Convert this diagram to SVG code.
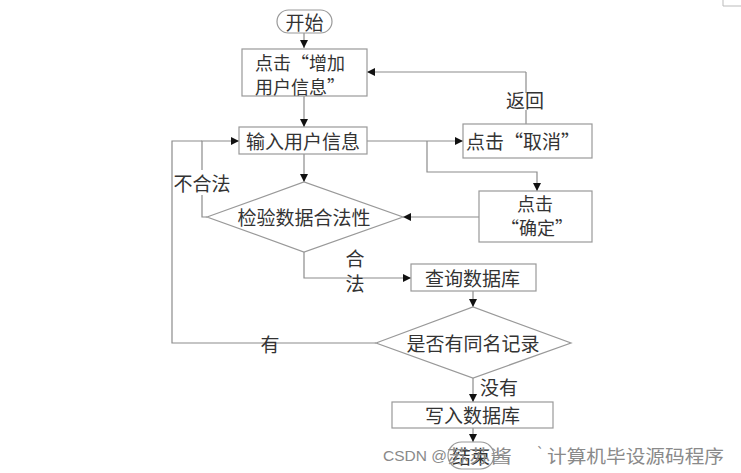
<svg xmlns="http://www.w3.org/2000/svg" width="741" height="473" viewBox="0 0 741 473">
<defs>
<marker id="ah" viewBox="0 0 10 10" refX="10" refY="5" markerWidth="8" markerHeight="8" markerUnits="userSpaceOnUse" orient="auto">
<path d="M0,0 L10,5 L0,10 z" fill="#111"/>
</marker>
<style>
.n{fill:#fff;stroke:#999;stroke-width:1.2}
.c{fill:none;stroke:#8c8c8c;stroke-width:1.2}
.a{marker-end:url(#ah)}
text{font-family:"Noto Sans CJK SC","Liberation Serif",sans-serif;font-size:19px;fill:#333;dominant-baseline:central}
.m{text-anchor:middle}
.s{font-size:18px}
.wm{fill:#8a8a8a;font-size:18px}
</style>
</defs>
<rect width="741" height="473" fill="#fff"/>
<path d="M723,0 V6 H741" fill="none" stroke="#bbb" stroke-width="1"/>

<g id="connectors">
<path class="c a" d="M304,33 V48"/>
<path class="c a" d="M304,96 V127"/>
<path class="c" d="M526,93 V72"/>
<path class="c a" d="M526,72 H367"/>
<path class="c" d="M526,125 V110"/>
<path class="c a" d="M367,141 H463"/>
<path class="c a" d="M427,141 V172 H537 V191"/>
<path class="c a" d="M479,217 H403"/>
<path class="c a" d="M304,154 V182"/>
<path class="c" d="M207,217 H202 V195"/>
<path class="c a" d="M202,170 V141 H239"/>
<path class="c a" d="M304,252 V278 H411"/>
<path class="c a" d="M473,291 V307"/>
<path class="c" d="M376,343 H172 V141 H202"/>
<path class="c a" d="M473,378 V402"/>
<path class="c a" d="M473,428 V442"/>
</g>

<g id="start">
<rect class="n" x="277" y="10" width="55" height="23" rx="11.5"/>
<text class="m" x="304.5" y="21">开始</text>
</g>
<g id="add">
<rect class="n" x="242" y="49" width="125" height="47"/>
<text class="s" x="255" y="61.5">点击“增加</text>
<text class="s" x="255" y="85.5">用户信息”</text>
</g>
<g id="input">
<rect class="n" x="239" y="127" width="128" height="27"/>
<text class="m" x="303" y="140.5">输入用户信息</text>
</g>
<g id="cancel">
<rect class="n" x="463" y="124" width="129" height="34"/>
<text class="m" x="523" y="140.5">点击“取消”</text>
</g>
<g id="confirm">
<rect class="n" x="479" y="191" width="113" height="51"/>
<text class="m s" x="535" y="203">点击</text>
<text class="m s" x="537" y="227">“确定”</text>
</g>
<g id="check">
<path class="n" d="M207,217 L304,182 L403,217 L304,252 Z"/>
<text class="m" x="304" y="216.5">检验数据合法性</text>
</g>
<g id="query">
<rect class="n" x="411" y="264" width="125" height="27"/>
<text class="m" x="472.5" y="277.5">查询数据库</text>
</g>
<g id="dup">
<path class="n" d="M376,343 L473,307 L571,343 L473,378 Z"/>
<text class="m" x="473" y="342.5">是否有同名记录</text>
</g>
<g id="write">
<rect class="n" x="392" y="402" width="161" height="26"/>
<text class="m" x="472.5" y="414.5">写入数据库</text>
</g>
<g id="end">
<rect class="n" x="448" y="442" width="46" height="27" rx="13.5"/>
<text class="m" x="471" y="455.5">结束</text>
</g>

<g id="labels">
<text class="m" x="525" y="99">返回</text>
<text class="m" x="202" y="182">不合法</text>
<text class="m" x="355" y="257">合</text>
<text class="m" x="355" y="282">法</text>
<text class="m" x="270" y="343">有</text>
<text class="m" x="499" y="386">没有</text>
</g>

<g id="watermark">
<text class="wm" x="383" y="455" style="font-family:'Liberation Sans',sans-serif;font-size:15.5px">CSDN @</text>
<text class="wm" x="447" y="455" textLength="65" lengthAdjust="spacingAndGlyphs">苏苏酱</text>
<text class="wm" x="536" y="452" style="font-size:14px">`</text>
<text class="wm" x="547" y="455" textLength="177" lengthAdjust="spacingAndGlyphs">计算机毕设源码程序</text>
</g>
</svg>
